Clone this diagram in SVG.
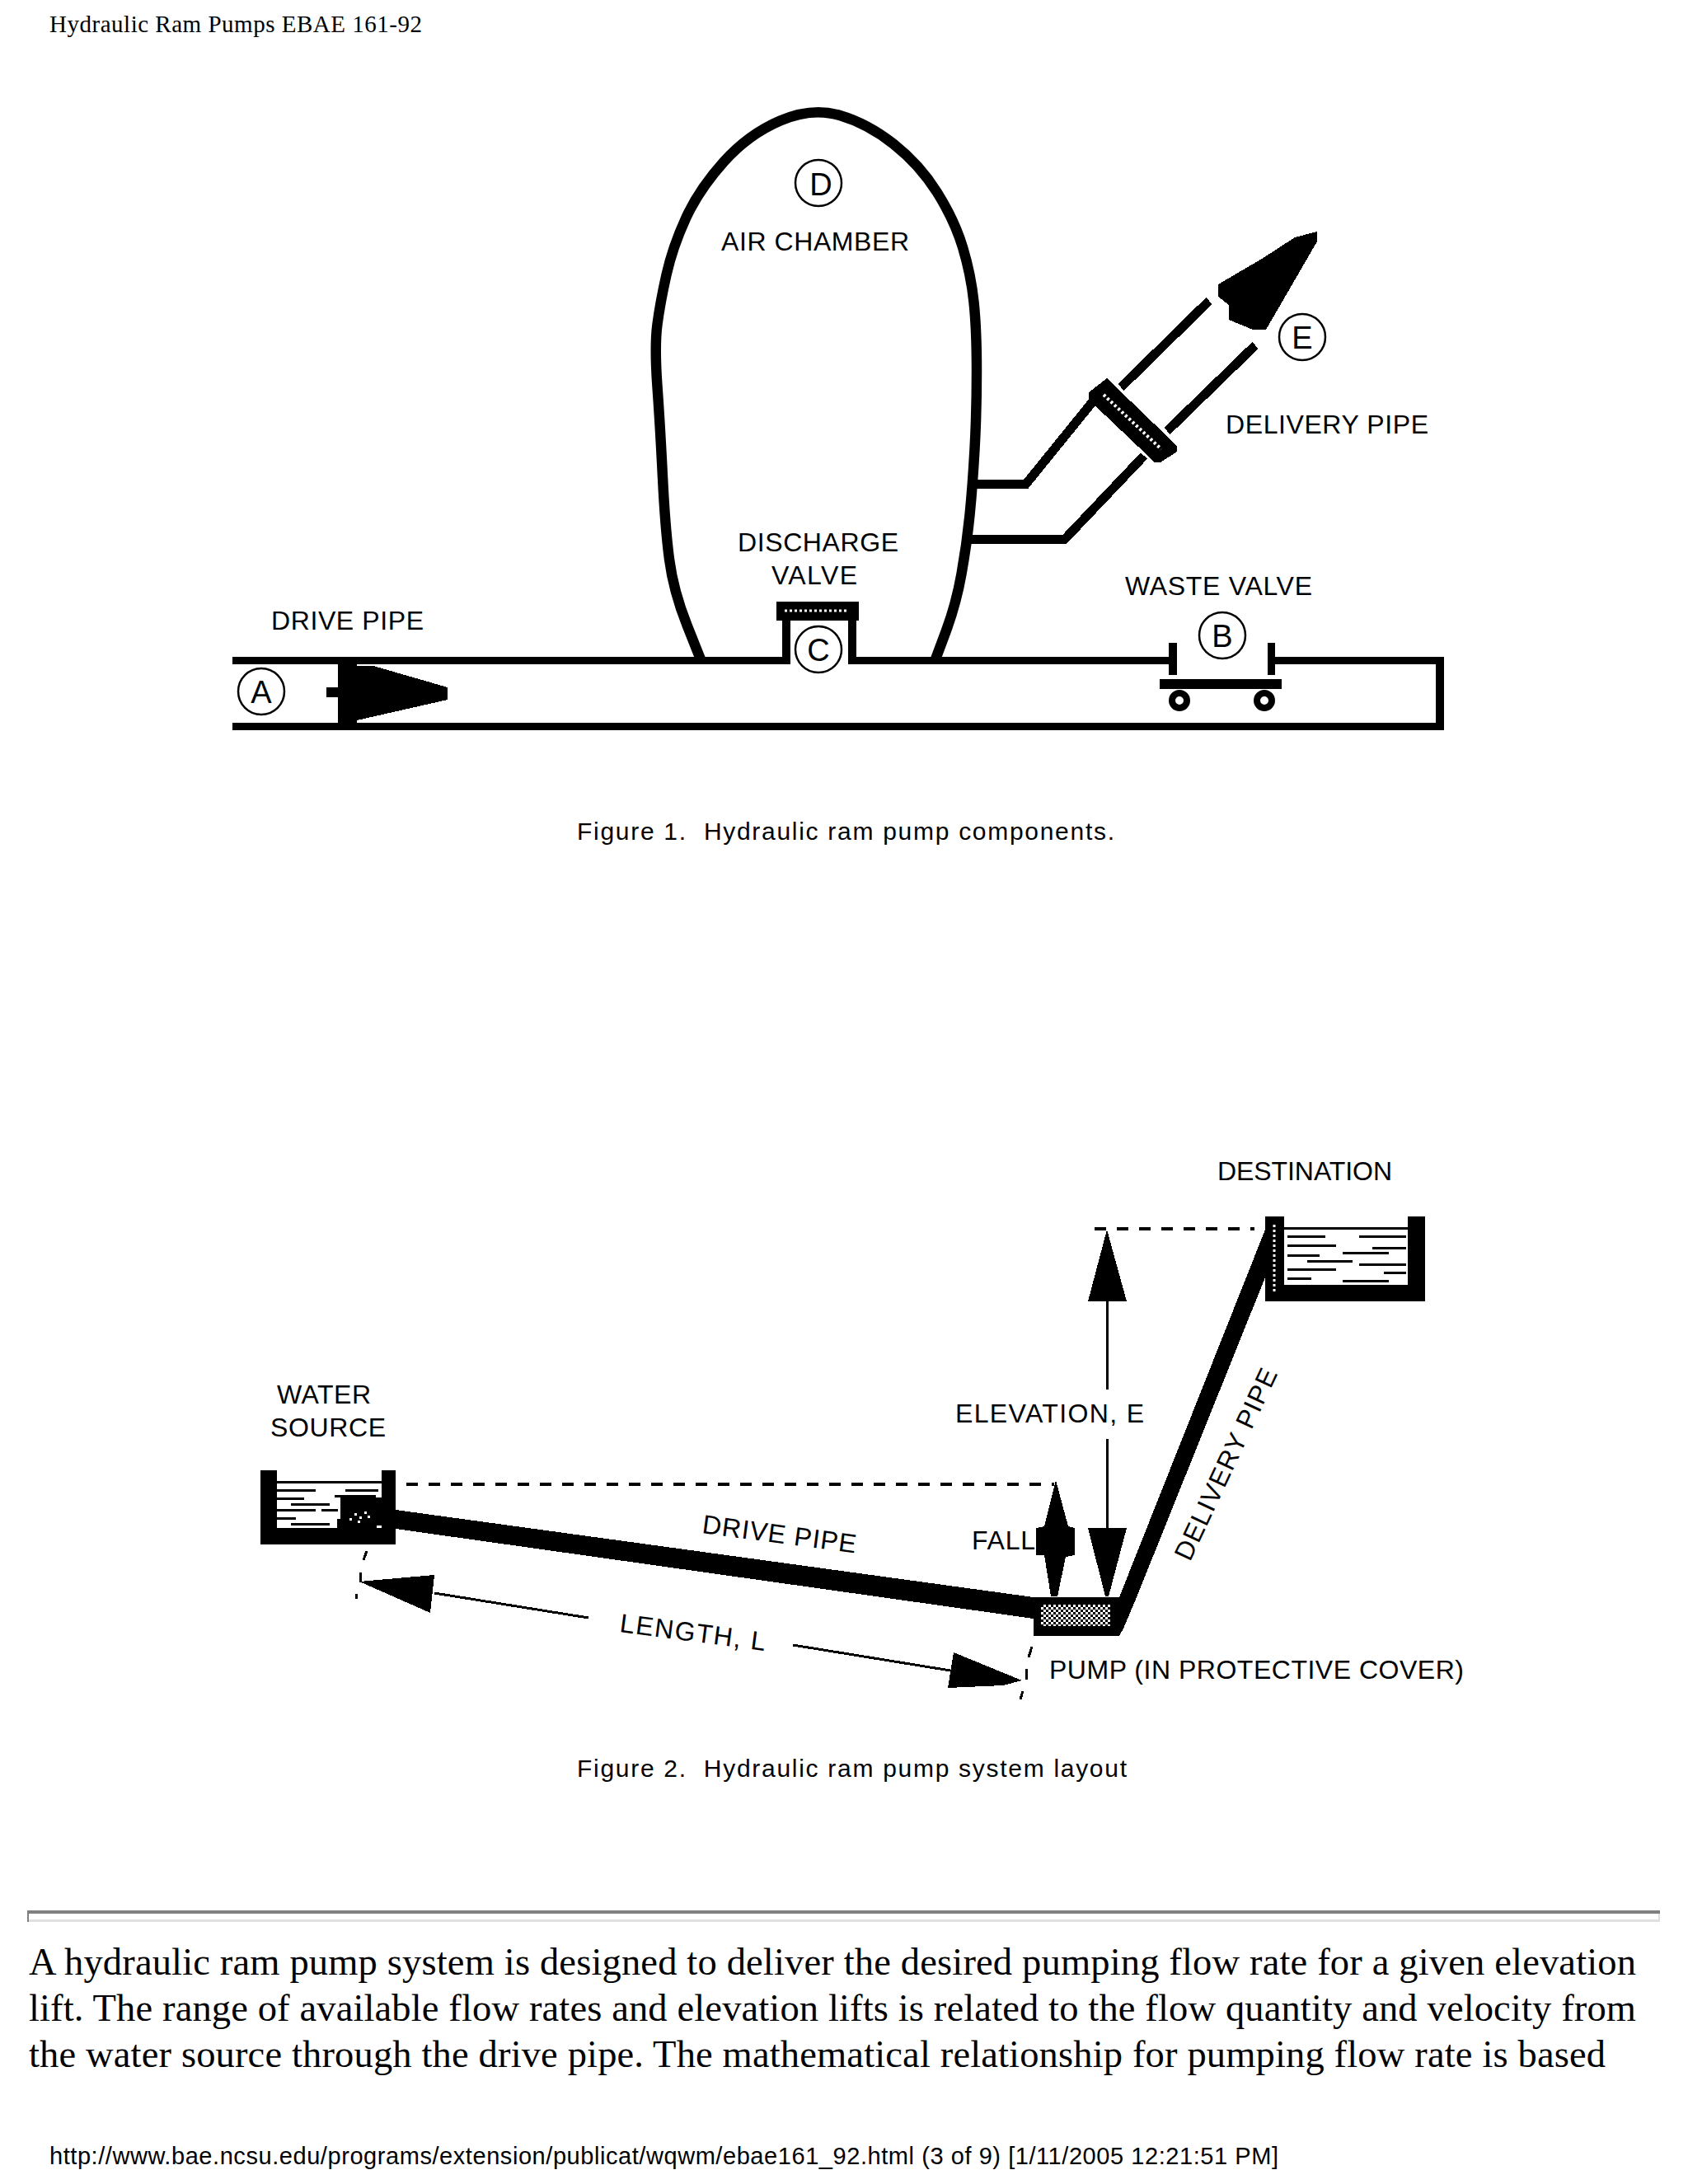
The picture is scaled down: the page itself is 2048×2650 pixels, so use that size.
<svg xmlns="http://www.w3.org/2000/svg" width="2048" height="2650" viewBox="0 0 2048 2650">
<style>
.k{fill:#000;stroke:none}
.l{fill:none;stroke:#000;stroke-width:11;shape-rendering:crispEdges}
.w{fill:none;stroke:#000;stroke-width:3;shape-rendering:crispEdges}
.d{fill:none;stroke:#000;stroke-width:3.5;stroke-dasharray:14 13;shape-rendering:crispEdges}
.c{fill:none;stroke:#000;stroke-width:2.5}
.lab{font-family:"Liberation Sans",Arial,sans-serif;font-size:32px;fill:#000;white-space:pre}
.let{font-family:"Liberation Sans",Arial,sans-serif;font-size:38px;fill:#000;text-anchor:middle}
.cap{font-family:"Liberation Sans",Arial,sans-serif;font-size:30px;fill:#000;white-space:pre}
.ser{font-family:"Liberation Serif","Times New Roman",serif;fill:#000}
.san{font-family:"Liberation Sans",Arial,sans-serif;fill:#000}
.crisp{shape-rendering:crispEdges}
</style>
<defs>
<pattern id="grain" width="6" height="6" patternUnits="userSpaceOnUse"><rect width="6" height="6" fill="#fff"/><rect width="3" height="3" fill="#000"/><rect x="3" y="3" width="3" height="3" fill="#000"/></pattern>
</defs>
<rect width="2048" height="2650" fill="#fff"/>
<text class="ser" x="60" y="39" font-size="29" textLength="452">Hydraulic Ram Pumps EBAE 161-92</text>

<g id="fig1-drive-pipe">
<path class="k crisp" d="M282 797H949V806H282ZM1039 797H1428V806H1039ZM1538 797H1752V886H282V877H1742V806H1538Z"/>
<text class="lab" x="329" y="764" textLength="185">DRIVE PIPE</text>
</g>
<g id="node-a">
<circle class="c" cx="317" cy="839" r="28"/><text class="let" x="317" y="853">A</text>
<path class="k crisp" d="M396 834H410V806H433V808H453L543 834V849L433 874V877H410V846H396Z"/>
</g>
<g id="node-d-air-chamber">
<path fill="none" stroke="#000" stroke-width="12.5" d="M850 800L833.5 758.5Q817 717 812 678.5Q807 640 804 579Q801 518 797.5 469Q794 420 797.5 393.5Q801 367 808.5 333.5Q816 300 832 265Q848 230 878 196.5Q908 163 946.5 146.5Q985 130 1019 140Q1053 150 1084.5 175Q1116 200 1137 233.5Q1158 267 1168 300Q1178 333 1181.5 366.5Q1185 400 1185 450Q1185 500 1182.5 545Q1180 590 1176.5 625Q1173 660 1166.5 696.5Q1160 733 1147.5 766.5L1135 800"/>
<circle class="c" cx="993" cy="222" r="28"/><text class="let" x="996" y="237">D</text>
<text class="lab" x="875" y="304" textLength="228">AIR CHAMBER</text>
</g>
<g id="node-c-discharge-valve">
<path class="k crisp" d="M942 730H1042V753H1039V806H1029V753H959V806H949V753H942Z"/>
<line x1="952" y1="741" x2="1030" y2="741" stroke="#fff" stroke-width="3" stroke-dasharray="3 3"/>
<circle class="c" cx="993" cy="788" r="28"/><text class="let" x="993" y="802">C</text>
<text class="lab" x="895" y="669" textLength="195">DISCHARGE</text>
<text class="lab" x="936" y="709" textLength="104">VALVE</text>
</g>
<g id="node-b-waste-valve">
<path class="k crisp" d="M1418 780H1428V819H1418ZM1538 780H1547V819H1538ZM1407 824H1555V836H1407Z"/>
<circle cx="1431" cy="850" r="9" fill="#fff" stroke="#000" stroke-width="8"/>
<circle cx="1534" cy="850" r="9" fill="#fff" stroke="#000" stroke-width="8"/>
<circle class="c" cx="1483" cy="771" r="28"/><text class="let" x="1483" y="785">B</text>
<text class="lab" x="1365" y="722" textLength="227">WASTE VALVE</text>
</g>
<g id="node-e-delivery-pipe">
<polyline class="l" points="1185,587 1245,587 1326,487"/>
<polyline class="l" points="1176,654 1292,654 1388,553"/>
<line class="l" x1="1360" y1="470" x2="1467" y2="365"/>
<line class="l" x1="1416" y1="523" x2="1523" y2="419"/>
<path class="k crisp" d="M1321 476L1343 459L1428 541V548L1408 561H1401L1321 485Z"/>
<line x1="1339" y1="479" x2="1409" y2="545" stroke="#fff" stroke-width="4" stroke-dasharray="3 3"/>
<path class="k crisp" d="M1598 281V293L1536 400H1520L1491 388V370L1478 360V345L1531 314L1571 288Z"/>
<circle class="c" cx="1580" cy="409" r="28"/><text class="let" x="1580" y="423">E</text>
<text class="lab" x="1487" y="526" textLength="246">DELIVERY PIPE</text>
</g>
<text class="cap" x="700" y="1019" textLength="652">Figure 1.  Hydraulic ram pump components.</text>

<g id="node-water-source">
<text class="lab" x="336" y="1703" textLength="114">WATER</text>
<text class="lab" x="328" y="1743" textLength="140">SOURCE</text>
<path class="k crisp" d="M316 1784H336V1854H463V1784H480V1874H316Z"/>
<path class="w" d="M336 1798H463M336 1808H383M419 1808H459M406 1815H456M336 1818H369M353 1825H400M336 1832H383M390 1832H410M336 1842H359M353 1849H400"/>
<path class="k crisp" d="M413 1817H463V1854H409V1843H413Z"/>
<path d="M424 1842h3v3h-3zM430 1836h3v3h-3zM436 1840h3v3h-3zM442 1834h3v3h-3zM446 1839h3v3h-3zM434 1845h3v3h-3zM457 1851h6v3h-6z" fill="#fff"/>
</g>
<g id="node-pump">
<rect class="k crisp" x="1254" y="1938" width="104" height="47"/>
<rect x="1263" y="1947" width="84" height="26" fill="url(#grain)" class="crisp"/>
<text class="lab" x="1273" y="2037" textLength="503">PUMP (IN PROTECTIVE COVER)</text>
</g>
<g id="node-destination">
<text class="lab" x="1477" y="1432" textLength="212">DESTINATION</text>
<path class="k crisp" d="M1535 1476H1558V1559H1708V1476H1729V1579H1535Z"/>
<path class="w" d="M1558 1490H1708M1562 1500H1608M1649 1500H1706M1562 1511H1621M1665 1514H1706M1629 1520H1685M1562 1523H1601M1586 1530H1641M1649 1534H1706M1562 1540H1621M1679 1544H1706M1562 1551H1591M1629 1554H1685"/>
<line x1="1546" y1="1486" x2="1546" y2="1568" stroke="#fff" stroke-width="3" stroke-dasharray="3 3"/>
</g>
<g id="connectors">
<path class="k crisp" d="M480 1832L1254 1938V1964L480 1855Z"/>
<path class="k crisp" d="M1358 1938L1535 1492V1550L1379 1938L1363 1976L1358 1985Z"/>
<line class="d" x1="493" y1="1801" x2="1279" y2="1801"/>
<line class="d" x1="1328" y1="1491" x2="1522" y2="1491"/>
<path class="w" d="M1343 1579V1686M1343 1746V1855"/>
<path class="k crisp" d="M1343 1492L1367 1579H1320Z"/>
<path class="k crisp" d="M1320 1854H1367L1345 1937H1341Z"/>
<path class="k crisp" d="M1281 1796L1296 1852L1304 1854V1887L1293 1889L1283 1937H1275L1267 1887H1257V1854L1267 1852Z"/>
<line class="w" x1="527" y1="1933" x2="714" y2="1963"/>
<line class="w" x1="962" y1="1996" x2="1153" y2="2027"/>
<path class="k crisp" d="M436 1919L527 1911L522 1957Z"/>
<path class="k crisp" d="M1157 2005L1240 2039L1217 2045L1150 2048Z"/>
<path class="w" d="M445 1882L441 1893M437 1908V1920M432 1934V1940M1252 1998L1248 2011M1245 2025V2038M1241 2052L1238 2062"/>
</g>
<text class="lab" transform="translate(851 1860) rotate(7.5)" textLength="188">DRIVE PIPE</text>
<text class="lab" transform="translate(751 1980) rotate(7.4)" textLength="178">LENGTH, L</text>
<text class="lab" x="1159" y="1726" textLength="229">ELEVATION, E</text>
<text class="lab" x="1179" y="1880" textLength="77">FALL</text>
<text class="lab" transform="translate(1487 1777) rotate(-65)" x="-126" y="11" textLength="253">DELIVERY PIPE</text>
<text class="cap" x="700" y="2156" textLength="667">Figure 2.  Hydraulic ram pump system layout</text>

<g id="rule" class="crisp">
<rect x="33" y="2329" width="1981" height="3" fill="#e0e0e0"/>
<rect x="2012" y="2318" width="2" height="14" fill="#e0e0e0"/>
<rect x="33" y="2318" width="1981" height="4" fill="#808080"/>
<rect x="33" y="2318" width="2" height="14" fill="#808080"/>
</g>
<text class="ser" x="35" y="2396" font-size="46.5" textLength="1950">A hydraulic ram pump system is designed to deliver the desired pumping flow rate for a given elevation</text>
<text class="ser" x="35" y="2452" font-size="46.5" textLength="1950">lift. The range of available flow rates and elevation lifts is related to the flow quantity and velocity from</text>
<text class="ser" x="35" y="2508" font-size="46.5" textLength="1913">the water source through the drive pipe. The mathematical relationship for pumping flow rate is based</text>
<text class="san" x="60" y="2626" font-size="29" textLength="1491">http://www.bae.ncsu.edu/programs/extension/publicat/wqwm/ebae161_92.html (3 of 9) [1/11/2005 12:21:51 PM]</text>
</svg>
